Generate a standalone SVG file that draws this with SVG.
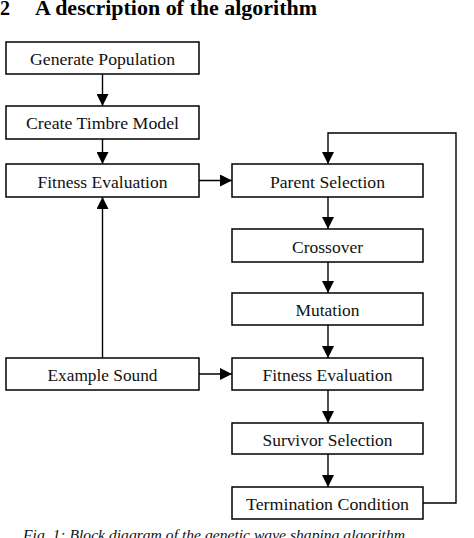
<svg xmlns="http://www.w3.org/2000/svg" width="474" height="538" viewBox="0 0 474 538">
<style>
.box{fill:#fff;stroke:#000;stroke-width:1.5}
.lbl{font-family:"Liberation Serif","Times New Roman",serif;font-size:16px;fill:#111;text-anchor:middle}
.ln{fill:none;stroke:#000;stroke-width:1.4}
.title{font-family:"Liberation Serif","Times New Roman",serif;font-size:20px;font-weight:bold;fill:#000}
.cap{font-family:"Liberation Serif","Times New Roman",serif;font-size:14px;font-style:italic;fill:#111}
</style>
<defs>
<marker id="ah" viewBox="0 0 12 12" refX="12" refY="6" markerWidth="12" markerHeight="12" markerUnits="userSpaceOnUse" orient="auto">
<path d="M0,0 L12,6 L0,12 Z" fill="#000"/>
</marker>
</defs>
<rect width="474" height="538" fill="#fff"/>
<text class="title" x="0" y="15">2</text>
<text class="title" x="35" y="15" textLength="282" lengthAdjust="spacingAndGlyphs">A description of the algorithm</text>

<g id="generate-population"><rect class="box" x="6" y="42" width="193" height="32"/><text class="lbl" x="102.5" y="65" textLength="145" lengthAdjust="spacingAndGlyphs">Generate Population</text></g>
<g id="create-timbre-model"><rect class="box" x="6" y="106" width="193" height="33"/><text class="lbl" x="102.5" y="129" textLength="153" lengthAdjust="spacingAndGlyphs">Create Timbre Model</text></g>
<g id="fitness-evaluation-left"><rect class="box" x="6" y="164" width="193" height="33"/><text class="lbl" x="102.5" y="188" textLength="130" lengthAdjust="spacingAndGlyphs">Fitness Evaluation</text></g>
<g id="example-sound"><rect class="box" x="6" y="358" width="193" height="32"/><text class="lbl" x="102.5" y="381" textLength="110" lengthAdjust="spacingAndGlyphs">Example Sound</text></g>
<g id="parent-selection"><rect class="box" x="232" y="164" width="191" height="33"/><text class="lbl" x="327.5" y="188" textLength="115" lengthAdjust="spacingAndGlyphs">Parent Selection</text></g>
<g id="crossover"><rect class="box" x="232" y="229" width="191" height="33"/><text class="lbl" x="327.5" y="253" textLength="71" lengthAdjust="spacingAndGlyphs">Crossover</text></g>
<g id="mutation"><rect class="box" x="232" y="293" width="191" height="32"/><text class="lbl" x="327.5" y="316" textLength="64" lengthAdjust="spacingAndGlyphs">Mutation</text></g>
<g id="fitness-evaluation-right"><rect class="box" x="232" y="358" width="191" height="32"/><text class="lbl" x="327.5" y="381" textLength="130" lengthAdjust="spacingAndGlyphs">Fitness Evaluation</text></g>
<g id="survivor-selection"><rect class="box" x="232" y="423" width="191" height="31"/><text class="lbl" x="327.5" y="446" textLength="130" lengthAdjust="spacingAndGlyphs">Survivor Selection</text></g>
<g id="termination-condition"><rect class="box" x="232" y="487" width="191" height="32"/><text class="lbl" x="327.5" y="510" textLength="163" lengthAdjust="spacingAndGlyphs">Termination Condition</text></g>

<g id="connectors">
<line class="ln" x1="102.5" y1="74" x2="102.5" y2="106" marker-end="url(#ah)"/>
<line class="ln" x1="102.5" y1="139" x2="102.5" y2="164" marker-end="url(#ah)"/>
<line class="ln" x1="102.5" y1="358" x2="102.5" y2="197" marker-end="url(#ah)"/>
<line class="ln" x1="199" y1="180.5" x2="232" y2="180.5" marker-end="url(#ah)"/>
<line class="ln" x1="199" y1="374" x2="232" y2="374" marker-end="url(#ah)"/>
<line class="ln" x1="328" y1="197" x2="328" y2="229" marker-end="url(#ah)"/>
<line class="ln" x1="328" y1="262" x2="328" y2="293" marker-end="url(#ah)"/>
<line class="ln" x1="328" y1="325" x2="328" y2="358" marker-end="url(#ah)"/>
<line class="ln" x1="328" y1="390" x2="328" y2="423" marker-end="url(#ah)"/>
<line class="ln" x1="328" y1="454" x2="328" y2="487" marker-end="url(#ah)"/>
<polyline class="ln" points="423,503 456,503 456,133 328,133 328,164" marker-end="url(#ah)"/>
</g>

<text class="cap" x="23" y="540" textLength="382" lengthAdjust="spacingAndGlyphs">Fig. 1: Block diagram of the genetic wave shaping algorithm</text>
</svg>
